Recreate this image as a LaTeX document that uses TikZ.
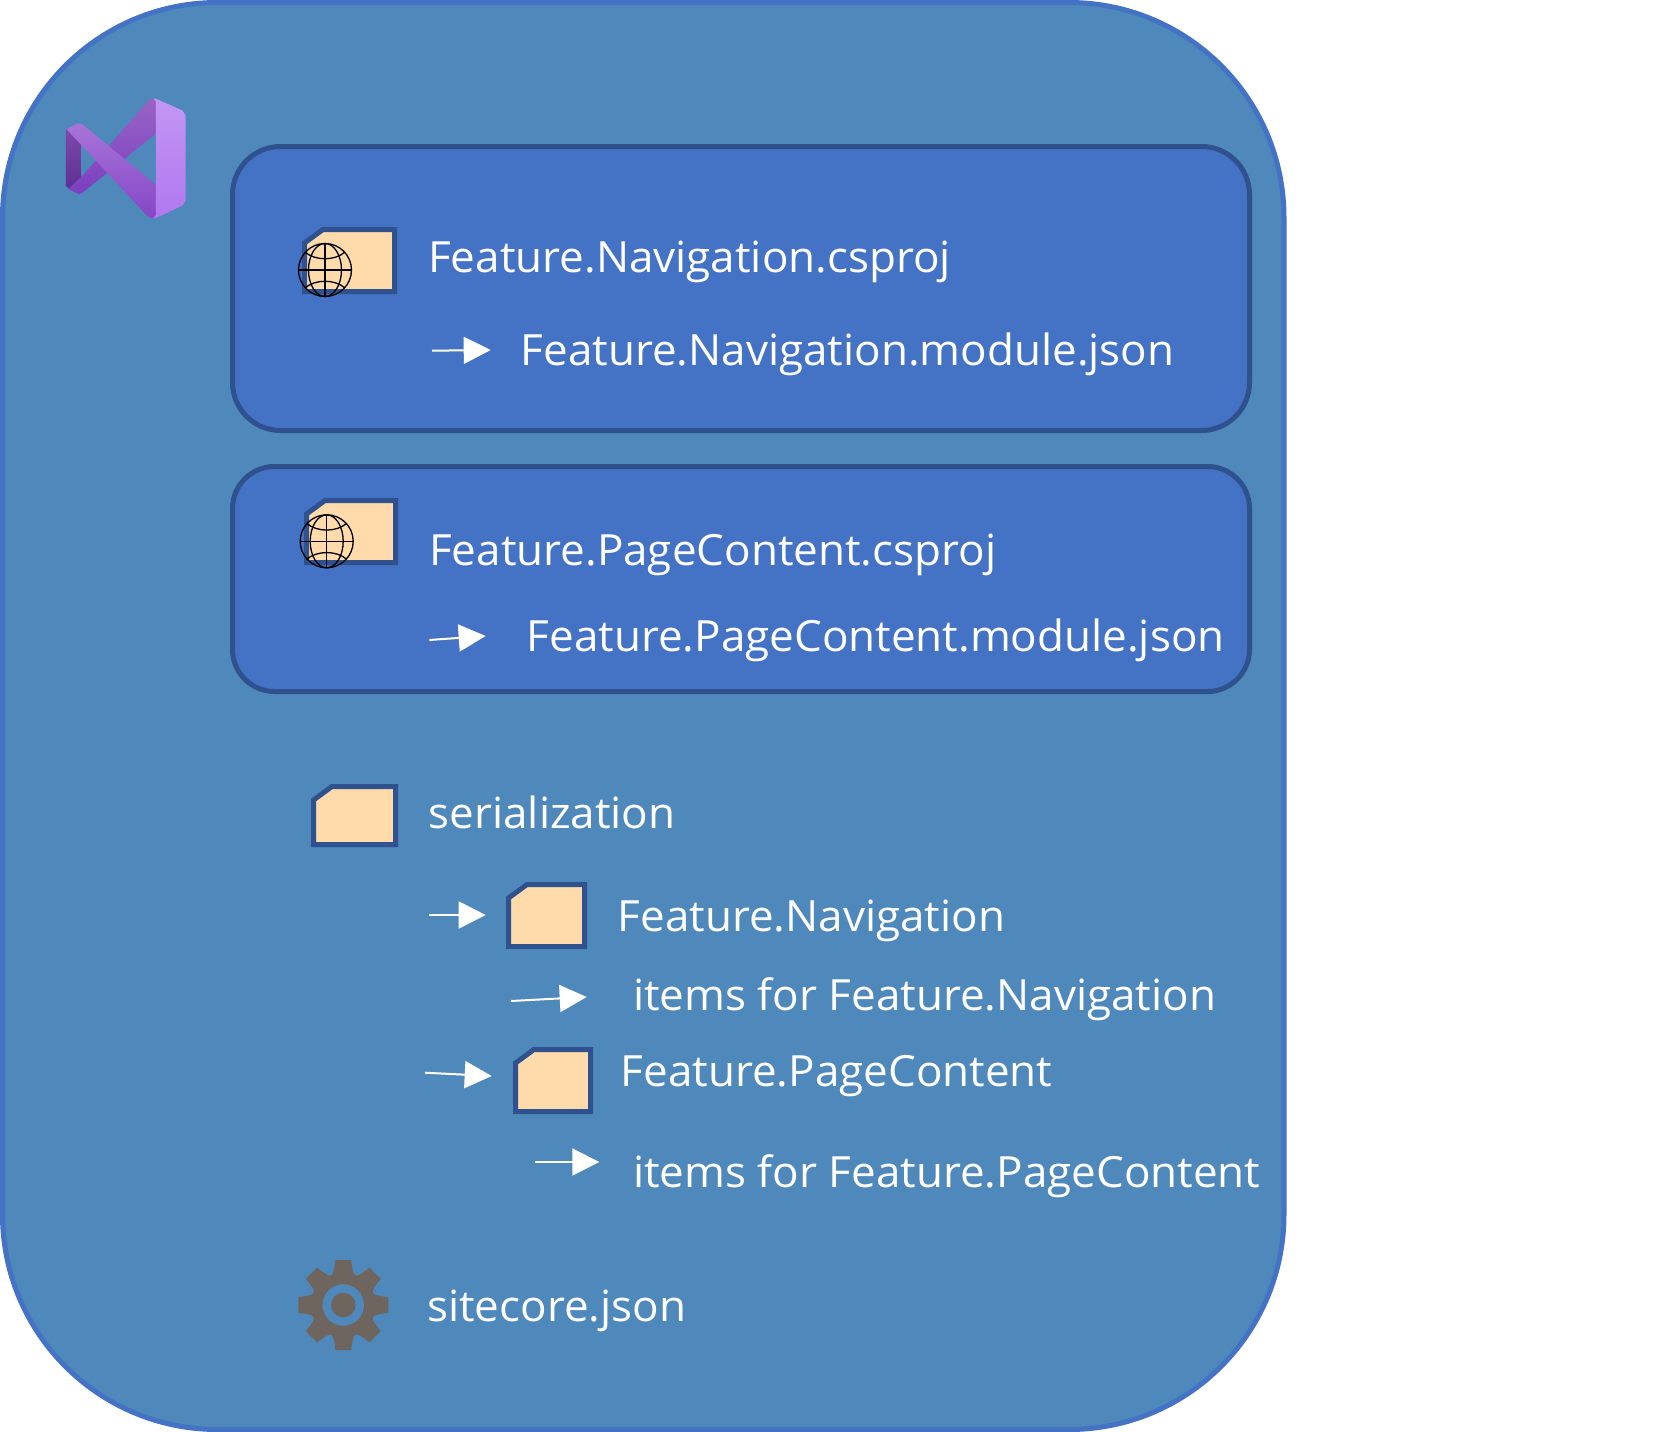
\documentclass[tikz,border=0pt]{standalone}
\usepackage{fontspec}
\setmainfont[FakeStretch=1.023]{Open Sans}
\usetikzlibrary{arrows.meta}
\definecolor{outerfill}{HTML}{4F88BA}
\definecolor{outerline}{HTML}{4472C4}
\definecolor{innerfill}{HTML}{4472C4}
\definecolor{innerline}{HTML}{2F528F}
\definecolor{folderfill}{HTML}{FFDAAA}
\definecolor{gearcol}{HTML}{6E665E}
\definecolor{va}{HTML}{7E4AA8}
\definecolor{vb}{HTML}{5E2F96}
\definecolor{vc}{HTML}{9A64C6}
\definecolor{vd}{HTML}{7A3FBE}
\definecolor{ve}{HTML}{A874D8}
\definecolor{vf}{HTML}{8546C6}
\definecolor{vg}{HTML}{C396F4}
\definecolor{vh}{HTML}{B078EE}
\tikzset{
  outerbox/.style={draw=outerline,fill=outerfill,line width=5pt,rounded corners=215pt},
  innerbox/.style={draw=innerline,fill=innerfill,line width=5pt,rounded corners=48pt},
  folderbox/.style={draw=innerline,fill=folderfill,line width=5pt,miter limit=10},
  globeline/.style={draw=black,line width=1.3pt},
  label/.style={text=white,anchor=base west,inner sep=0pt,font=\fontsize{43}{50}\selectfont},
  flow/.style={draw=white,line width=2pt,-{Triangle[width=27pt,length=27pt,fill=white]}},
}
\newcommand{\folderico}[4]{\draw[folderbox] ({#1+2.5},{#2+16}) -- ({#1+21},{#2+2.5}) -- ({#3-2.5},{#2+2.5}) -- ({#3-2.5},{#4-2.5}) -- ({#1+2.5},{#4-2.5}) -- cycle;}
\newcommand{\globeico}[3]{\begin{scope}[shift={(#1,#2)}]
  \draw[globeline] (0,0) circle (#3pt);
  \draw[globeline] (0,0) ellipse (16.5pt and #3pt);
  \draw[globeline] (-#3,0) -- (#3,0) (0,-#3) -- (0,#3);
  \draw[globeline] (-20,-18) .. controls (-10,-9) and (10,-9) .. (20,-18);
  \draw[globeline] (-20,18) .. controls (-10,9) and (10,9) .. (20,18);
\end{scope}}
\begin{document}
\begin{tikzpicture}[x=1pt,y=-1pt]
\useasboundingbox (0,0) rectangle (1663,1432);
% outer panel
\path[outerbox] (2.5,2.5) rectangle (1284,1429.5);
% logo
\begin{scope}[shift={(0,60)},x=0.3333pt,y=-0.3333pt]
  \shade[top color=va,bottom color=vb] (198,212) -- (205,205) -- (243,250) -- (243,352) -- (206,386) -- (198,378) -- cycle;
  \shade[top color=vc,bottom color=vd] (448,120) -- (460,115) -- (468,125) -- (468,220) -- (248,398) -- (238,403) -- (205,387) -- (243,352) -- cycle;
  \shade[top color=ve,bottom color=vf] (200,208) -- (232,190) -- (246,192) -- (468,375) -- (468,465) -- (458,476) -- (442,468) -- cycle;
  \shade[top color=vg,bottom color=vh] (460,115) -- (472,118) -- (548,152) -- (557,168) -- (557,422) -- (548,436) -- (472,473) -- (458,476) -- (468,465) -- (468,125) -- cycle;
\end{scope}
% inner panels
\path[innerbox] (232.5,146.5) rectangle (1249.5,430.5);
\path[innerbox,rounded corners=42pt] (232.5,466.5) rectangle (1249.5,691.5);
% folders
\folderico{302}{227}{397}{294}
\globeico{325}{270}{26.5}
\folderico{304}{498}{398}{565}
\globeico{326.7}{541.3}{26.5}
\folderico{311}{784}{398}{847}
\folderico{506}{882}{587}{949}
\folderico{513}{1047}{593}{1114}
% gear
\begin{scope}[shift={(343.3,1305)}]
  \fill[gearcol] (-10:45.7)
    \foreach \a in {0,45,...,315} {
      -- (\a-10:45.7) -- (\a+10:45.7)
      .. controls (\a+14:37) and (\a+18:32) .. (\a+22.5:32)
      .. controls (\a+27:32) and (\a+31:37) .. (\a+35:45.7)
    } -- cycle;
  \fill[outerfill] (0,0) circle (20.7pt);
  \fill[gearcol] (0,0) circle (12.3pt);
\end{scope}
% labels
\node[label] (t1) at (428,272.8) {Feature.Navigation.csproj};
\node[label] (t2) at (520.5,365) {Feature.Navigation.module.json};
\node[label] (t3) at (429,565) {Feature.PageContent.csproj};
\node[label] (t4) at (526.5,651.2) {Feature.PageContent.module.json};
\node[label] (t5) at (428.5,828) {serialization};
\node[label] (t6) at (617.5,931) {Feature.Navigation};
\node[label] (t7) at (633,1010) {items for Feature.Navigation};
\node[label] (t8) at (620.5,1086) {Feature.PageContent};
\node[label] (t9) at (633,1187) {items for Feature.PageContent};
\node[label] (t10) at (427,1321.5) {sitecore.json};
% arrows
\coordinate (a1s) at (432,350.7); \coordinate (a1e) at (490.7,350);
\coordinate (a2s) at (429.3,640); \coordinate (a2e) at (485.7,636);
\coordinate (a3s) at (429,915);   \coordinate (a3e) at (485.7,915);
\coordinate (a4s) at (511,1001);  \coordinate (a4e) at (586.7,997);
\coordinate (a5s) at (425,1072.7);\coordinate (a5e) at (491.7,1076);
\coordinate (a6s) at (535,1162);  \coordinate (a6e) at (599.3,1162);
\foreach \i in {1,...,6} \draw[flow] (a\i s) -- (a\i e);
\end{tikzpicture}
\end{document}
